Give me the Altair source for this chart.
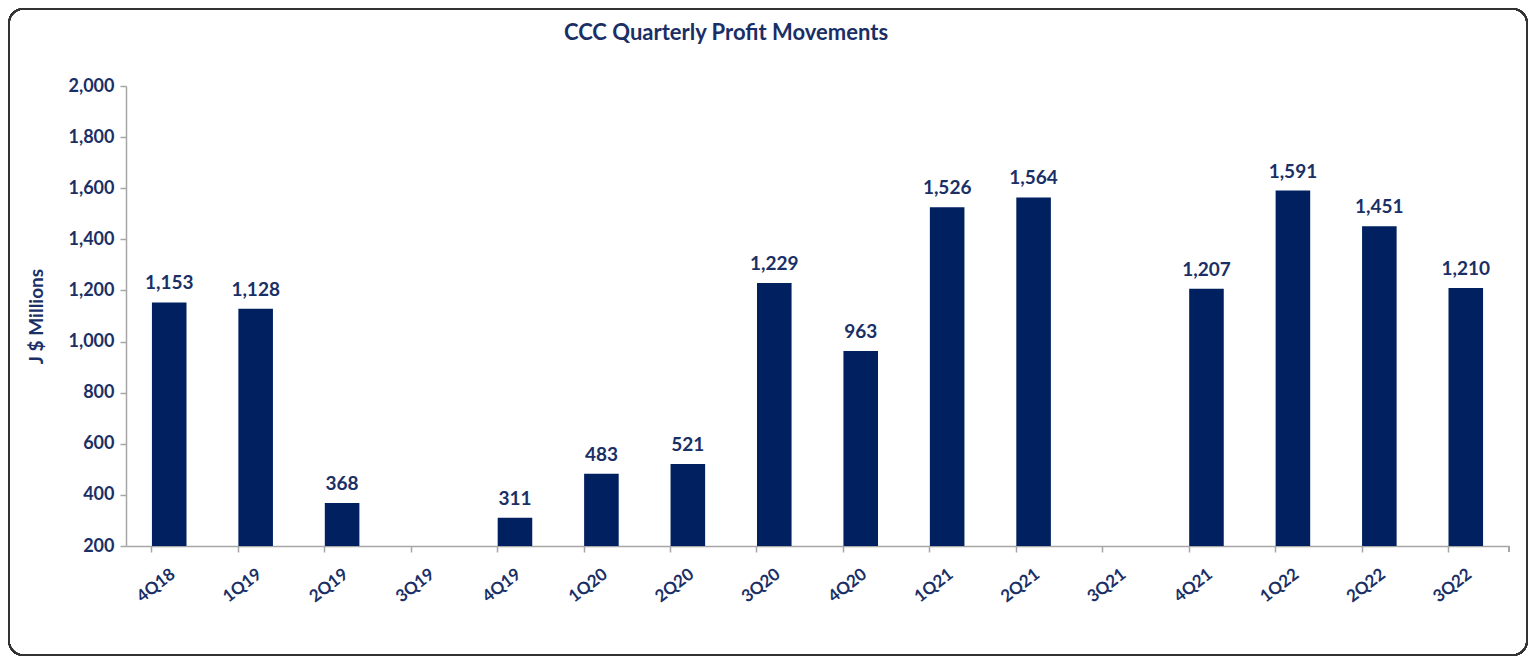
import altair as alt
import pandas as pd

quarters = ["4Q18", "1Q19", "2Q19", "3Q19", "4Q19", "1Q20", "2Q20", "3Q20",
            "4Q20", "1Q21", "2Q21", "3Q21", "4Q21", "1Q22", "2Q22", "3Q22"]
profits = [1153, 1128, 368, None, 311, 483, 521, 1229,
           963, 1526, 1564, None, 1207, 1591, 1451, 1210]
title_text = ["CCC Quarterly Profit Movements"]

df = pd.DataFrame({"q": quarters, "v": profits})
tdf = pd.DataFrame({"t": title_text})

NAVY = "#002060"
TXT = "#1a2f66"
FONT = "Lato"
W, H = 1383, 460

x = alt.X("q:N", sort=quarters, scale=alt.Scale(paddingInner=0.6, paddingOuter=0.3),
          axis=alt.Axis(title=None, labelAngle=-38, labelAlign="right", labelBaseline="middle",
                        labelFont=FONT, labelFontSize=17, labelFontWeight="bold", labelColor=TXT,
                        bandPosition=0, tickColor="#a6a6a6", tickSize=6, domainColor="#a6a6a6",
                        domainWidth=1.5, tickWidth=1.5, labelPadding=20, labelOffset=4))
y = alt.Y("v:Q", scale=alt.Scale(domain=[200, 2000], nice=False, zero=False),
          axis=alt.Axis(title="J $ Millions", values=list(range(200, 2001, 200)), format=",.0f",
                        labelFont=FONT, labelFontSize=18, labelFontWeight="bold", labelColor=TXT,
                        titleFont=FONT, titleFontSize=19, titleFontWeight="bold", titleColor=TXT,
                        titlePadding=22, grid=False, tickColor="#a6a6a6", tickSize=6,
                        domainColor="#a6a6a6", domainWidth=1.5, tickWidth=1.5, labelPadding=6))

bars = alt.Chart(df).mark_bar(color=NAVY).encode(x=x, y=y, y2=alt.datum(200))
labels = alt.Chart(df).mark_text(dy=-19, font=FONT, fontSize=19, fontWeight="bold",
                                 color=TXT).encode(x=x, y=y, text=alt.Text("v:Q", format=",.0f"))
endtick = alt.Chart(df).mark_rule(color="#a6a6a6", strokeWidth=1.5).encode(
    x=alt.value(W), y=alt.value(H), y2=alt.value(H + 6))
frame = alt.Chart(df).mark_rect(fill=None, stroke="#333333", strokeWidth=1.5, cornerRadius=14).encode(
    x=alt.value(-117), x2=alt.value(W + 18), y=alt.value(-77), y2=alt.value(H + 109))
title = alt.Chart(tdf).mark_text(font=FONT, fontSize=22, fontWeight="bold", color=TXT).encode(
    text="t:N", x=alt.value(600), y=alt.value(-53))

chart = alt.layer(frame, bars, labels, endtick, title).properties(
    width=W, height=H,
    autosize=alt.AutoSizeParams(type="none"),
    padding={"left": 118, "top": 78, "right": 19, "bottom": 110},
).configure(background="white", view=alt.ViewConfig(stroke="transparent", strokeWidth=0))

chart.save("out.html", embed_options={"renderer": "svg", "actions": False})
